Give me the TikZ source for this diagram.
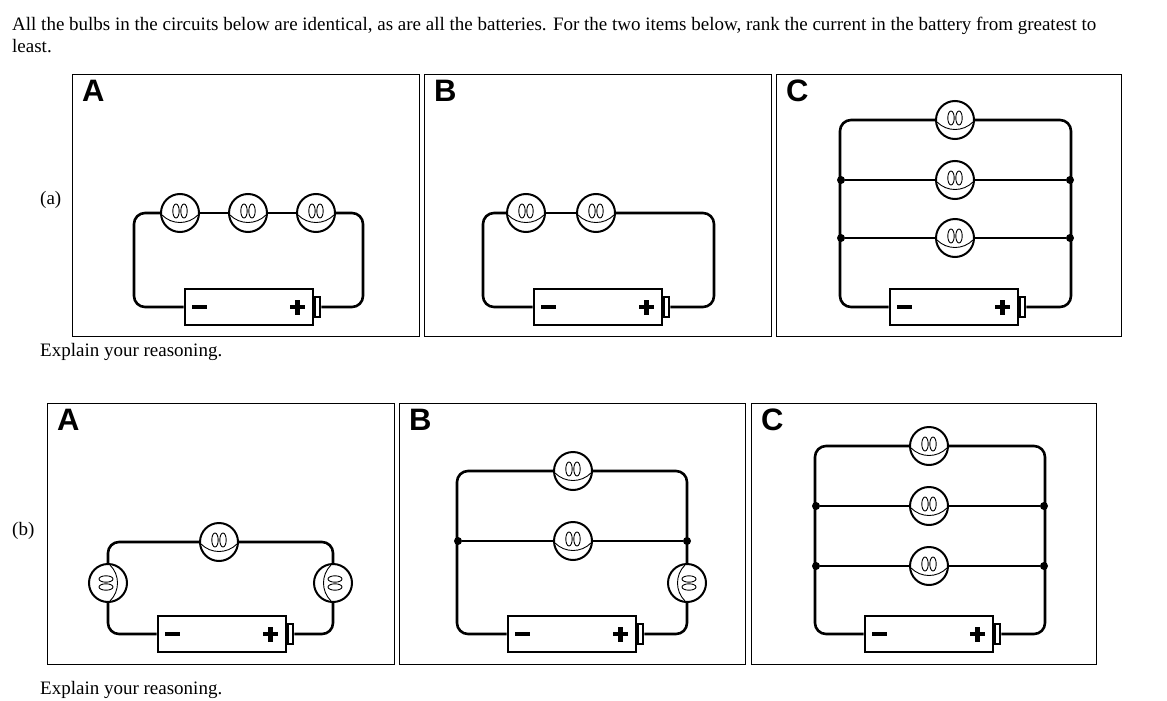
\documentclass[tikz,border=0pt]{standalone}
\usepackage{fontspec}
\setmainfont{Liberation Serif}
\newfontfamily\lsans{Liberation Sans}
\tikzset{
 wire/.style={line width=2.6pt, rounded corners=11pt},
 bulbc/.style={circle, draw, line width=2pt, minimum size=38pt, inner sep=0pt, fill=white},
 batt/.style={draw, line width=2.6pt, minimum width=128pt, minimum height=36pt, inner sep=0pt},
 term/.style={draw, line width=2pt, minimum width=5pt, minimum height=20pt, inner sep=0pt},
 panel/.style={draw, line width=0.9pt},
 jdot/.style={circle, fill, inner sep=0pt, minimum size=8pt},
 plab/.style={font=\lsans\bfseries\fontsize{31}{33}\selectfont, anchor=north west, inner sep=0pt},
 txt/.style={font=\fontsize{19}{22}\selectfont, anchor=west, inner sep=0pt}
}
\newcommand\mybulb[4]{\node[bulbc] (#1) at (#2,#3) {};
 \begin{scope}[shift={(#2,#3)}, rotate=#4]
 \draw[line width=.9pt] (-4,-2) ellipse (3.2pt and 7pt) (4,-2) ellipse (3.2pt and 7pt);
 \draw[line width=.9pt] (-18,2) .. controls (-8,12) and (8,12) .. (18,2);
 \end{scope}}
\newcommand\mybatt[3]{\node[batt] (#1) at (#2,#3) {};
 \node[term, anchor=west] (#1t) at (#1.east) {};
 \begin{scope}[shift={(#2,#3)}]
 \fill (-57,-2.2) rectangle (-42,2.2);
 \fill (41,-2.2) rectangle (56,2.2);
 \fill (46.4,-7.5) rectangle (50.6,7.5);
 \end{scope}}
\begin{document}
\begin{tikzpicture}[x=1pt,y=-1pt]
\useasboundingbox (0,0) rectangle (1167,701);
\node[txt] (h1) at (12,26) {All the bulbs in the circuits below are identical, as are all the batteries. For the two items below, rank the current in the battery from greatest to};
\node[txt] (h2) at (12,46) {least.};
\node[txt] (la) at (40,200) {(a)};
\node[txt] (ea) at (40,352) {Explain your reasoning.};
\node[txt] (lb) at (12,531) {(b)};
\node[txt] (eb) at (40,690) {Explain your reasoning.};
% panels
\draw[panel] (72,74) rectangle (419,336);
\draw[panel] (424,74) rectangle (771,336);
\draw[panel] (776,74) rectangle (1121,336);
\draw[panel] (47,403) rectangle (394,664);
\draw[panel] (399,403) rectangle (745,664);
\draw[panel] (751,403) rectangle (1096,664);
\node[plab] (aA) at (82,80) {A};
\node[plab] (aB) at (434,80) {B};
\node[plab] (aC) at (786,80) {C};
\node[plab] (bA) at (57,409) {A};
\node[plab] (bB) at (409,409) {B};
\node[plab] (bC) at (761,409) {C};
% (a) A
\mybulb{a1}{180}{213}{0}\mybulb{a2}{248}{213}{0}\mybulb{a3}{316}{213}{0}
\mybatt{ba}{249}{307}
\draw[wire] (a1.east)--(a2.west) (a2.east)--(a3.west);
\draw[wire] (a1.west) -- ++(-26,0) |- (ba.west);
\draw[wire] (a3.east) -- ++(27,0) |- (bat.east);
% (a) B
\mybulb{b1}{526}{213}{0}\mybulb{b2}{596}{213}{0}
\mybatt{bb}{598}{307}
\draw[wire] (b1.east)--(b2.west);
\draw[wire] (b1.west) -- ++(-23,0) |- (bb.west);
\draw[wire] (b2.east) -- ++(98,0) |- (bbt.east);
% (a) C
\mybulb{c1}{955}{120}{0}\mybulb{c2}{955}{180}{0}\mybulb{c3}{955}{238}{0}
\mybatt{bc}{954}{307}
\node[jdot] (cd1) at (841,180) {};\node[jdot] (cd2) at (1070,180) {};
\node[jdot] (cd3) at (841,238) {};\node[jdot] (cd4) at (1070,238) {};
\draw[wire] (c1.west) -- ++(-95,0) |- (bc.west);
\draw[wire] (c1.east) -- ++(96,0) |- (bct.east);
\draw[wire] (cd1)--(c2.west) (c2.east)--(cd2) (cd3)--(c3.west) (c3.east)--(cd4);
% (b) A
\mybulb{p1}{219}{542}{0}\mybulb{pl}{108}{583}{90}\mybulb{pr}{333}{583}{-90}
\mybatt{bd}{222}{634}
\draw[wire] (pl.north) |- (p1.west);
\draw[wire] (p1.east) -| (pr.north);
\draw[wire] (pl.south) |- (bd.west);
\draw[wire] (pr.south) |- (bdt.east);
% (b) B
\mybulb{q1}{573}{471}{0}\mybulb{q2}{573}{541}{0}\mybulb{qr}{687}{583}{-90}
\mybatt{be}{572}{634}
\node[jdot] (qd1) at (458,541) {};\node[jdot] (qd2) at (687,541) {};
\draw[wire] (q1.west) -- ++(-96,0) |- (be.west);
\draw[wire] (q1.east) -| (qr.north);
\draw[wire] (qd1)--(q2.west) (q2.east)--(qd2);
\draw[wire] (qr.south) |- (bet.east);
% (b) C
\mybulb{r1}{929}{446}{0}\mybulb{r2}{929}{506}{0}\mybulb{r3}{929}{566}{0}
\mybatt{bf}{929}{634}
\node[jdot] (rd1) at (816,506) {};\node[jdot] (rd2) at (1044,506) {};
\node[jdot] (rd3) at (816,566) {};\node[jdot] (rd4) at (1044,566) {};
\draw[wire] (r1.west) -- ++(-94,0) |- (bf.west);
\draw[wire] (r1.east) -- ++(96,0) |- (bft.east);
\draw[wire] (rd1)--(r2.west) (r2.east)--(rd2) (rd3)--(r3.west) (r3.east)--(rd4);
\end{tikzpicture}
\end{document}
